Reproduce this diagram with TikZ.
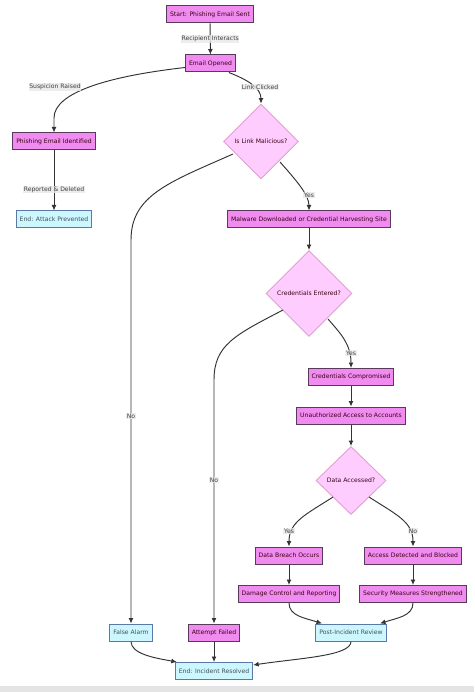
\documentclass[tikz,border=0pt]{standalone}
\usepackage{fontspec}
\setmainfont{DejaVu Sans}
\usetikzlibrary{shapes.geometric,arrows.meta}
\definecolor{pinkfill}{HTML}{F08CF0}
\definecolor{pinkline}{HTML}{5A3A5A}
\definecolor{dfill}{HTML}{FFCCFF}
\definecolor{dline}{HTML}{E0A0D0}
\definecolor{cfill}{HTML}{CCF7FF}
\definecolor{cline}{HTML}{5A78A8}
\definecolor{edgec}{HTML}{333333}
\definecolor{lblbg}{HTML}{E8E8E8}
\definecolor{band}{HTML}{E4E4E4}
\tikzset{
  base/.style={rectangle, minimum height=17pt, inner xsep=3.5pt, inner ysep=0pt, font=\fontsize{6.1}{7}\selectfont, line width=1pt},
  pbox/.style={base, fill=pinkfill, draw=pinkline, text=black!70!purple},
  cbox/.style={base, fill=cfill, draw=cline, text=black!75!cyan},
  dbox/.style={diamond, aspect=1, inner sep=0pt, fill=dfill, draw=dline, line width=0.9pt, font=\fontsize{6.1}{7}\selectfont, text=black!70!purple},
  conn/.style={draw=edgec, line width=0.95pt, -{Latex[length=5.5pt,width=5pt]}},
  lbl/.style={font=\fontsize{6.1}{7}\selectfont, text=black!75, fill=lblbg, fill opacity=0.8, text opacity=1, inner sep=0.6pt}
}
\begin{document}
\begin{tikzpicture}[x=1pt,y=-1pt]
\useasboundingbox (0,0) rectangle (474,692);
\fill[band] (0,686) rectangle (474,692);

\node[pbox] (start) at (210,14.5) {Start: Phishing Email Sent};
\node[pbox] (eo) at (210.5,63.5) {Email Opened};
\node[pbox] (pei) at (54,141.5) {Phishing Email Identified};
\node[cbox] (eap) at (54,219.5) {End: Attack Prevented};
\node[dbox, minimum width=75pt, minimum height=75pt] (ilm) at (261,141.5) {Is Link Malicious?};
\node[pbox] (mal) at (309,219.5) {Malware Downloaded or Credential Harvesting Site};
\node[dbox, minimum width=86pt, minimum height=86pt] (ce) at (309,293.5) {Credentials Entered?};
\node[pbox] (cc) at (351,377) {Credentials Compromised};
\node[pbox] (uaa) at (351,415.5) {Unauthorized Access to Accounts};
\node[dbox, minimum width=70pt, minimum height=68pt] (da) at (351,480.5) {Data Accessed?};
\node[pbox] (db) at (289,555.5) {Data Breach Occurs};
\node[pbox] (adb) at (413,555.5) {Access Detected and Blocked};
\node[pbox] (dcr) at (289,594) {Damage Control and Reporting};
\node[pbox] (sms) at (413,594) {Security Measures Strengthened};
\node[cbox] (fa) at (131,632.5) {False Alarm};
\node[pbox] (af) at (214,632.5) {Attempt Failed};
\node[cbox] (pir) at (351,632.5) {Post-Incident Review};
\node[cbox] (eir) at (214,671) {End: Incident Resolved};

\draw[conn] (start) -- node[lbl] {Recipient Interacts} (eo);
\draw[conn] ([yshift=-4pt]eo.west) .. controls (110,76) and (54,92) .. (54,118) -- (pei.north);
\node[lbl] (l1) at (55,87) {Suspicion Raised};
\draw[conn] ([xshift=-7pt]eo.south east) .. controls (248,80) and (261,88) .. (ilm.north);
\node[lbl] (l2) at (260,87) {Link Clicked};
\draw[conn] (pei) -- node[lbl, pos=0.65] {Reported \& Deleted} (eap);
\draw[conn] (233,154) .. controls (170,182) and (131,195) .. (131,240) -- (fa.north);
\node[lbl] (l3) at (131,416) {No};
\draw[conn] (280,162) .. controls (296,180) and (309,195) .. (mal.north);
\node[lbl] (l4) at (309,195) {Yes};
\draw[conn] (mal) -- (ce);
\draw[conn] (283,310) .. controls (235,335) and (214,345) .. (214,380) -- (af.north);
\node[lbl] (l5) at (214,480) {No};
\draw[conn] (328,319) .. controls (342,335) and (351,345) .. (cc.north);
\node[lbl] (l6) at (351,353) {Yes};
\draw[conn] (cc) -- (uaa);
\draw[conn] (uaa) -- (da);
\draw[conn] (333,497) .. controls (305,515) and (289,522) .. (db.north);
\node[lbl] (l7) at (289,531) {Yes};
\draw[conn] (369,497) .. controls (397,515) and (413,522) .. (adb.north);
\node[lbl] (l8) at (413,531) {No};
\draw[conn] (db) -- (dcr);
\draw[conn] (adb) -- (sms);
\draw[conn] (dcr.south) .. controls (289,616) and (305,618) .. ([xshift=-29pt]pir.north);
\draw[conn] (sms.south) .. controls (413,616) and (397,618) .. ([xshift=29pt]pir.north);
\draw[conn] (fa.south) .. controls (131,654) and (155,658) .. ([xshift=2pt]eir.north west);
\draw[conn] (af) -- (eir);
\draw[conn] (pir.south) .. controls (351,656) and (300,658) .. ([yshift=6pt]eir.east);
\end{tikzpicture}
\end{document}
